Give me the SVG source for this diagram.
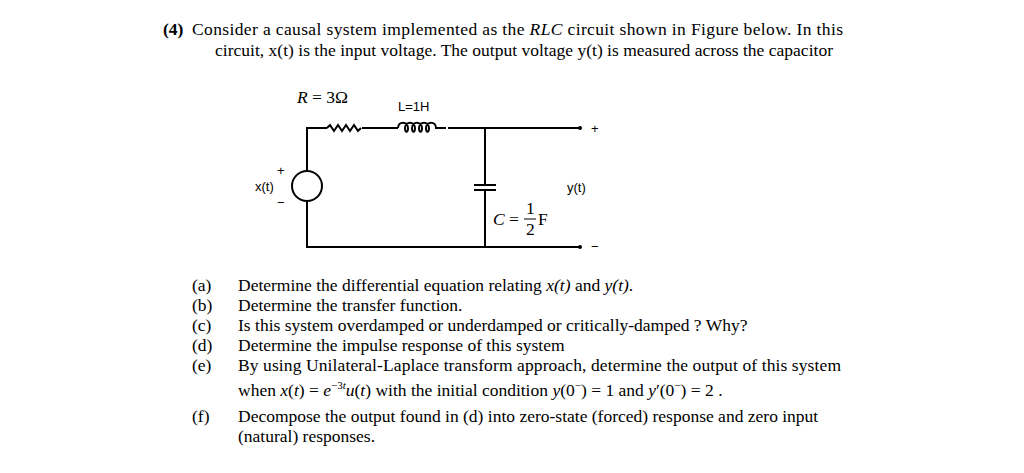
<svg xmlns="http://www.w3.org/2000/svg" width="1024" height="473" viewBox="0 0 1024 473">
<style>
.t{font-family:"Liberation Serif",serif;font-size:17.5px;fill:#000}
.s{font-family:"Liberation Sans",sans-serif;font-size:13px;fill:#000}
.w{fill:none;stroke:#000;stroke-width:2}
</style>
<rect width="1024" height="473" fill="#fff"/>
<text class="t" x="163" y="35"><tspan font-weight="bold">(4)</tspan></text>
<text class="t" x="192" y="35" textLength="651">Consider a causal system implemented as the <tspan font-style="italic">RLC</tspan> circuit shown in Figure below. In this</text>
<text class="t" x="215" y="56" textLength="618">circuit, x(t) is the input voltage. The output voltage y(t) is measured across the capacitor</text>
<g id="circuit">
<g id="wires">
<path class="w" d="M307,171 V128 H327 M362,128 H398 M448,128 H580 M307,201 V247 H580 M485,128 V185 M485,190 V247"/>
</g>
<g id="resistor"><path class="w" stroke-width="1.6" d="M327,128 l3,-3 l4,6 l4,-6 l4,6 l4,-6 l4,6 l4,-6 l4,6 l3,-3"/></g>
<g id="inductor"><path class="w" stroke-width="1.6" d="M398,128 c0,-7 10,-7 10,0 c0,5 -3,5 -3,0 c0,-7 10,-7 10,0 c0,5 -3,5 -3,0 c0,-7 10,-7 10,0 c0,5 -3,5 -3,0 c0,-7 10,-7 10,0 c0,5 -3,5 -3,0 c0,-7 10,-7 10,0 h10"/></g>
<g id="source"><circle class="w" cx="307" cy="186" r="15"/></g>
<g id="capacitor"><path class="w" d="M474,185 H496 M474,190 H496"/></g>
<circle cx="580" cy="128" r="2" fill="#000"/><circle cx="580" cy="247" r="2" fill="#000"/>
<text class="t" x="297" y="103"><tspan font-style="italic">R</tspan> = 3Ω</text>
<text class="s" x="398" y="111" font-size="14">L=1H</text>
<text class="s" x="591" y="133" font-size="15">+</text>
<text class="s" x="591" y="251" font-size="15">−</text>
<text class="s" x="277" y="175" font-size="14">+</text>
<text class="s" x="277" y="207" font-size="14">−</text>
<text class="s" x="255" y="191">x(t)</text>
<text class="s" x="567" y="192">y(t)</text>
<text class="t" x="493" y="225"><tspan font-style="italic">C</tspan> =</text>
<text class="t" x="526" y="214" font-size="15">1</text>
<path d="M524,219 H536" stroke="#000" stroke-width="1"/>
<text class="t" x="526" y="235" font-size="15">2</text>
<text class="t" x="538" y="225">F</text>
</g>
<g class="t">
<text x="192" y="291">(a)</text><text x="238" y="291">Determine the differential equation relating <tspan font-style="italic">x(t)</tspan> and <tspan font-style="italic">y(t)</tspan>.</text>
<text x="192" y="311">(b)</text><text x="238" y="311">Determine the transfer function.</text>
<text x="192" y="331">(c)</text><text x="238" y="331">Is this system overdamped or underdamped or critically-damped ? Why?</text>
<text x="192" y="351">(d)</text><text x="238" y="351">Determine the impulse response of this system</text>
<text x="192" y="371">(e)</text><text x="238" y="371" textLength="603">By using Unilateral-Laplace transform approach, determine the output of this system</text>
<text x="238" y="396">when  <tspan font-style="italic">x</tspan>(<tspan font-style="italic">t</tspan>) = <tspan font-style="italic">e</tspan><tspan font-size="11" dy="-7">−3<tspan font-style="italic">t</tspan></tspan><tspan dy="7" font-style="italic">u</tspan>(<tspan font-style="italic">t</tspan>)  with the initial condition  <tspan font-style="italic">y</tspan>(0<tspan font-size="11" dy="-7">−</tspan><tspan dy="7">) = 1  and  </tspan><tspan font-style="italic">y</tspan>′(0<tspan font-size="11" dy="-7">−</tspan><tspan dy="7">) = 2 .</tspan></text>
<text x="192" y="422">(f)</text><text x="238" y="422">Decompose the output found in (d) into zero-state (forced) response and zero input</text>
<text x="238" y="442">(natural) responses.</text>
</g>
</svg>
